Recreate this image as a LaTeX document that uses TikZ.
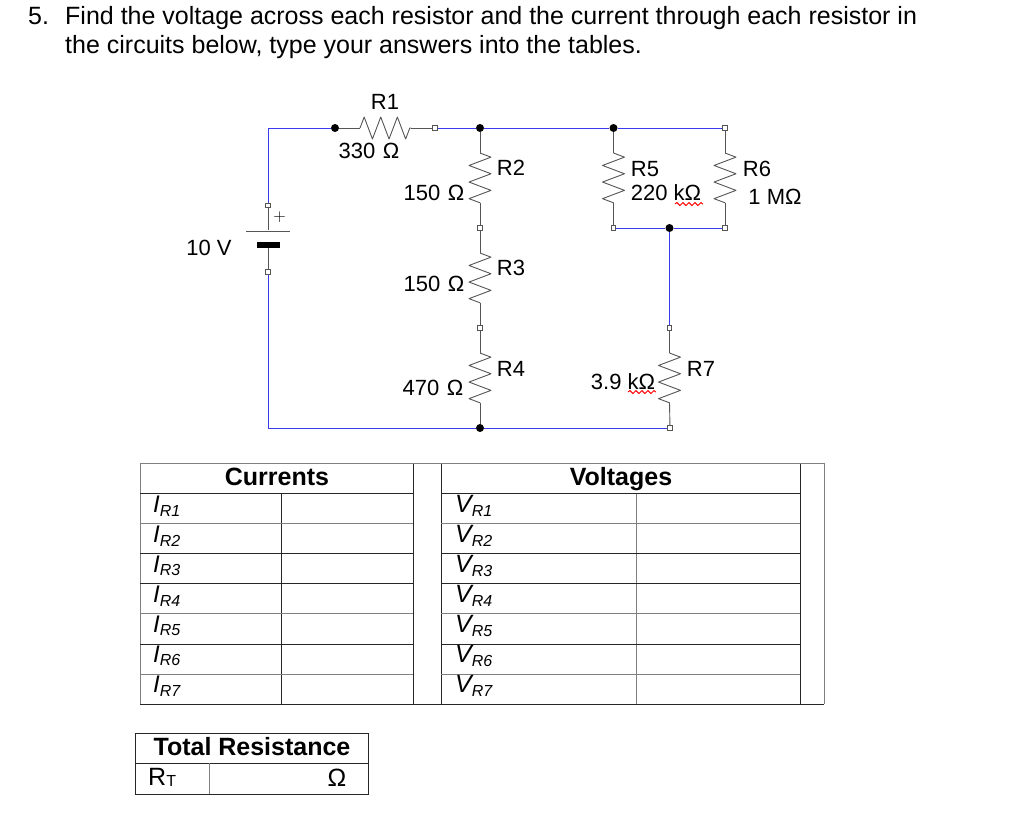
\documentclass[tikz,border=0pt]{standalone}
\usepackage{fontspec}
\setmainfont{Liberation Sans}
\usetikzlibrary{decorations.pathmorphing}
\definecolor{wireblue}{HTML}{3A3AF0}
\definecolor{leadgray}{HTML}{555555}
\newcommand{\rowlbl}[3]{{\itshape\fontsize{#3}{#3}\selectfont #1\raisebox{-3.5pt}{\fontsize{16}{16}\selectfont #2}}}
\tikzset{
  dotnode/.style={circle,fill=black,inner sep=0pt,minimum size=8pt},
  pinnode/.style={rectangle,draw=leadgray,fill=white,line width=0.6pt,inner sep=0pt,minimum size=4.5pt},
  wire/.style={wireblue,line width=0.9pt},
  lead/.style={leadgray,line width=0.9pt},
  zig/.style={leadgray,line width=0.9pt,line join=round,decorate,decoration={zigzag,segment length=16.6pt,amplitude=11pt}},
  squiggle/.style={red,line width=0.9pt,decorate,decoration={snake,segment length=6pt,amplitude=1.5pt}},
  lbl/.style={inner sep=0pt,font=\fontsize{22}{26}\selectfont},
  para/.style={inner sep=0pt,anchor=base west,font=\fontsize{25}{30}\selectfont},
  head/.style={inner sep=0pt,font=\bfseries\fontsize{25}{30}\selectfont},
  rowtext/.style={inner sep=0pt,anchor=west},
  cell/.style={black!85,line width=0.9pt},
  cellgray/.style={black!50,line width=0.9pt}
}
\begin{document}
\begin{tikzpicture}[x=1pt,y=-1pt]
            \useasboundingbox (0,0) rectangle (1024,820);

            \node (qnum) [para] at (28,24) {5.};
            \node (qone) [para] at (65,24) {Find the voltage across each resistor and the current through each resistor in};
            \node (qtwo) [para] at (65,53) {the circuits below, type your answers into the tables.};

            \coordinate (topleft) at (268,128);
            \node (d1) [dotnode, right of=topleft, node distance=67pt] {};
            \coordinate [right of=d1, node distance=25pt] (r1a);
            \coordinate [right of=r1a, node distance=51pt] (r1b);
            \node (p1) [pinnode, right of=r1b, node distance=24pt] {};
            \node (d2) [dotnode, right of=p1, node distance=45pt] {};
            \node (d3) [dotnode, right of=d2, node distance=133.5pt] {};
            \node (p2) [pinnode, right of=d3, node distance=111.5pt] {};

            \coordinate [below of=d2, node distance=25pt] (r2a);
            \coordinate [below of=r2a, node distance=50pt] (r2b);
            \node (p3) [pinnode, below of=r2b, node distance=25pt] {};
            \coordinate [below of=p3, node distance=25pt] (r3a);
            \coordinate [below of=r3a, node distance=50pt] (r3b);
            \node (p4) [pinnode, below of=r3b, node distance=25pt] {};
            \coordinate [below of=p4, node distance=25pt] (r4a);
            \coordinate [below of=r4a, node distance=50pt] (r4b);
            \node (d4) [dotnode, below of=r4b, node distance=25pt] {};
            \coordinate [left of=d4, node distance=212pt] (botleft);
            \node (p6) [pinnode, right of=d4, node distance=190pt] {};

            \coordinate [below of=d3, node distance=25pt] (r5a);
            \coordinate [below of=r5a, node distance=50pt] (r5b);
            \node (p8) [pinnode, below of=r5b, node distance=25pt] {};
            \coordinate [below of=p2, node distance=25pt] (r6a);
            \coordinate [below of=r6a, node distance=50pt] (r6b);
            \node (p9) [pinnode, below of=r6b, node distance=25pt] {};
            \node (d5) [dotnode, right of=p8, node distance=56pt] {};
            \node (p7) [pinnode, below of=d5, node distance=100pt] {};
            \coordinate [below of=p7, node distance=25pt] (r7a);
            \coordinate [below of=r7a, node distance=50pt] (r7b);

            \node (p10) [pinnode, below of=topleft, node distance=77.5pt] {};
            \node (plus) [below of=topleft, node distance=89pt, xshift=11.5pt, inner sep=0pt, font=\fontsize{17}{17}\selectfont] {$+$};
            \node (plate) [below of=p10, node distance=25.5pt, fill=leadgray, inner sep=0pt, minimum width=44pt, minimum height=1pt] {};
            \node (bar) [below of=plate, node distance=14pt, fill=black, inner sep=0pt, minimum width=23pt, minimum height=6pt] {};
            \node (p5) [pinnode, below of=bar, node distance=27pt] {};

            \path[wire]
            (topleft) edge (d1)
            (topleft) edge (p10)
            (p1) edge (d2)
            (d2) edge (d3)
            (d3) edge (p2)
            (p8) edge (d5)
            (d5) edge (p9)
            (d5) edge (p7)
            (d4) edge (botleft)
            (botleft) edge (p5)
            (d4) edge (p6);

            \path[lead]
            (d1) edge (r1a)
            (r1b) edge (p1)
            (d2) edge (r2a)
            (r2b) edge (p3)
            (p3) edge (r3a)
            (r3b) edge (p4)
            (p4) edge (r4a)
            (r4b) edge (d4)
            (d3) edge (r5a)
            (r5b) edge (p8)
            (p2) edge (r6a)
            (r6b) edge (p9)
            (p7) edge (r7a)
            (r7b) edge (p6)
            (p10) edge (plate)
            (bar) edge (p5);

            \draw[zig] (r1a) -- (r1b);
            \draw[zig] (r2a) -- (r2b);
            \draw[zig] (r3a) -- (r3b);
            \draw[zig] (r4a) -- (r4b);
            \draw[zig] (r5a) -- (r5b);
            \draw[zig] (r6a) -- (r6b);
            \draw[zig] (r7a) -- (r7b);

            \node (v1) [lbl] at (209,248) {10 V};
            \node (n1) [lbl] at (385,102) {R1};
            \node (w1) [lbl] at (369,151) {330\hspace{7.5pt}Ω};
            \node (n2) [lbl] at (511,168) {R2};
            \node (w2) [lbl] at (434,193) {150\hspace{7.5pt}Ω};
            \node (n3) [lbl] at (511,268) {R3};
            \node (w3) [lbl] at (434,284) {150\hspace{7.5pt}Ω};
            \node (n4) [lbl] at (511,369) {R4};
            \node (w4) [lbl] at (433,388) {470\hspace{7.5pt}Ω};
            \node (n5) [lbl] at (645,169) {R5};
            \node (w5) [lbl] at (666,193) {220 kΩ};
            \node (n6) [lbl] at (757,169) {R6};
            \node (w6) [lbl] at (775,197) {1 MΩ};
            \node (n7) [lbl] at (701,369) {R7};
            \node (w7) [lbl] at (623,382) {3.9 kΩ};
            \draw[squiggle] (675,204) -- (703,204);
            \draw[squiggle] (628,392) -- (656,392);

            % tables
            \draw[cellgray] (140,704) -- (140,463.5) -- (824,463.5) -- (824,704);
            \draw[cell] (140,704) -- (824,704);
            \draw[cell] (413,463.5) -- (413,704);
            \draw[cell] (441,463.5) -- (441,704);
            \draw[cell] (800,463.5) -- (800,704);
            \draw[cell] (281.5,493) -- (281.5,704);
            \draw[cellgray] (636,493) -- (636,704);
            \draw[cell] (140,493) -- (413,493) (441,493) -- (800,493);
            \draw[cellgray] (140,523.5) -- (413,523.5) (441,523.5) -- (800,523.5);
            \draw[cell] (140,553.5) -- (413,553.5) (441,553.5) -- (800,553.5);
            \draw[cell] (140,583.5) -- (413,583.5) (441,583.5) -- (800,583.5);
            \draw[cellgray] (140,613.5) -- (413,613.5) (441,613.5) -- (800,613.5);
            \draw[cell] (140,644) -- (413,644) (441,644) -- (800,644);
            \draw[cellgray] (140,674) -- (413,674) (441,674) -- (800,674);

            \node (cur) [head] at (277,477) {Currents};
            \node (vol) [head] at (621,479) {Voltages};
            \node (i1) [rowtext] at (153,506) {\rowlbl{I}{R1}{24}};
            \node (i2) [rowtext] at (153,536) {\rowlbl{I}{R2}{24}};
            \node (i3) [rowtext] at (153,566) {\rowlbl{I}{R3}{24}};
            \node (i4) [rowtext] at (153,596) {\rowlbl{I}{R4}{24}};
            \node (i5) [rowtext] at (153,626) {\rowlbl{I}{R5}{24}};
            \node (i6) [rowtext] at (153,656) {\rowlbl{I}{R6}{24}};
            \node (i7) [rowtext] at (153,686) {\rowlbl{I}{R7}{24}};
            \node (u1) [rowtext] at (455,506) {\rowlbl{V}{R1}{25}};
            \node (u2) [rowtext] at (455,536) {\rowlbl{V}{R2}{25}};
            \node (u3) [rowtext] at (455,566) {\rowlbl{V}{R3}{25}};
            \node (u4) [rowtext] at (455,596) {\rowlbl{V}{R4}{25}};
            \node (u5) [rowtext] at (455,626) {\rowlbl{V}{R5}{25}};
            \node (u6) [rowtext] at (455,656) {\rowlbl{V}{R6}{25}};
            \node (u7) [rowtext] at (455,686) {\rowlbl{V}{R7}{25}};

            \draw[cell] (135.5,733.5) rectangle (368.5,794);
            \draw[cell] (135.5,763) -- (368.5,763);
            \draw[cellgray] (209,763) -- (209,794);
            \node (tot) [head] at (252,747) {Total Resistance};
            \node (rt) [rowtext, font=\fontsize{25}{25}\selectfont] at (148,777) {R\raisebox{-1pt}{\fontsize{16}{16}\selectfont T}};
            \node (ohm) [inner sep=0pt, font=\fontsize{25}{25}\selectfont] at (337,778) {Ω};

        \end{tikzpicture}
\end{document}
